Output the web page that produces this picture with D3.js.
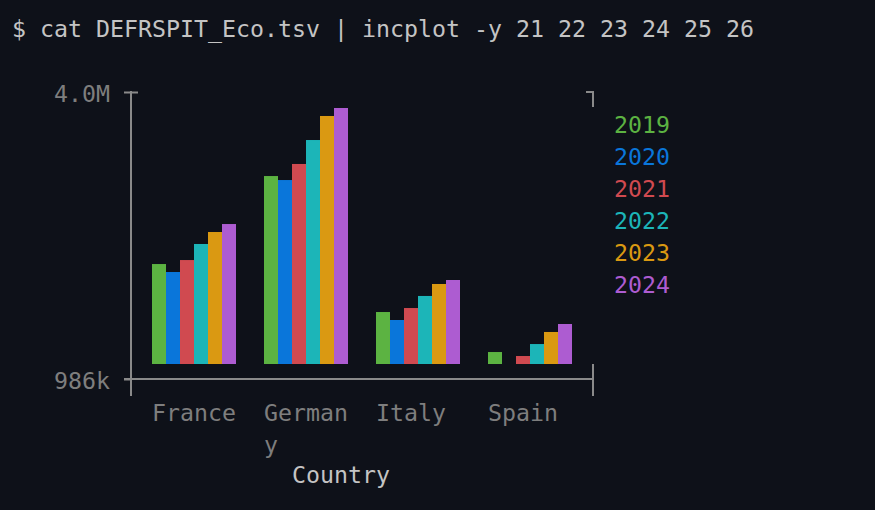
<!DOCTYPE html>
<html><head><meta charset="utf-8">
<script src="https://cdn.jsdelivr.net/npm/d3@7"></script>
<style>
html,body{margin:0;padding:0;background:#0e1119;}
svg{display:block;}
text{font-family:"DejaVu Sans Mono",monospace;font-size:23.25px;}
</style></head>
<body>
<script>
const title = "$ cat DEFRSPIT_Eco.tsv | incplot -y 21 22 23 24 25 26";
const countries = ["France", "Germany", "Italy", "Spain"];
const years = ["2019", "2020", "2021", "2022", "2023", "2024"];
const colors = ["#5cb342", "#0a76da", "#d04a50", "#1cb5b8", "#da9912", "#ad5cd1"];
const v2019 = [2163000, 3199000, 1598000, 1127000];
const v2020 = [2069000, 3152000, 1504000, 986000];
const v2021 = [2210000, 3341000, 1645000, 1080000];
const v2022 = [2399000, 3623000, 1787000, 1221000];
const v2023 = [2540000, 3906000, 1928000, 1363000];
const v2024 = [2634000, 4000000, 1975000, 1457000];
const series = [v2019, v2020, v2021, v2022, v2023, v2024];
const yTicks = [986000, 4000000];
const yTickLabels = ["986k", "4.0M"];
const xTitle = "Country";

const W = 875, H = 510, cw = 14, rh = 32, col0 = 12, base0 = 37;
const svg = d3.select("body").append("svg").attr("width", W).attr("height", H);
svg.append("rect").attr("width", W).attr("height", H).attr("fill", "#0e1119");

const axisColor = "#8a8a8a", labelColor = "#7e7e7e";

svg.append("text").attr("x", col0).attr("y", base0).attr("fill", "#c4c4c4").text(title);

const x = d3.scaleBand().domain(countries).range([152, 572]).paddingInner(0.25).paddingOuter(0);
const xi = d3.scaleBand().domain(years).range([0, x.bandwidth()]);
const y = d3.scaleLinear().domain([986000, 4000000]).range([364, 108]);
const yAx = d3.scaleLinear().domain([986000, 4000000]).range([379, 92]);

const axisX = 131, right = 593;

// bars
const g = svg.append("g");
countries.forEach((c, ci) => {
  years.forEach((yr, si) => {
    const v = series[si][ci];
    g.append("rect")
      .attr("x", x(c) + xi(yr))
      .attr("y", y(v))
      .attr("width", xi.bandwidth())
      .attr("height", y(986000) - y(v))
      .attr("fill", colors[si]);
  });
});

// y axis
const yAxis = d3.axisLeft(yAx).tickValues(yTicks).tickFormat((d, i) => yTickLabels[i]).tickSize(7).tickPadding(14);
const ga = svg.append("g").attr("transform", `translate(${axisX},0)`).call(yAxis);
ga.select(".domain").remove();
ga.selectAll(".tick line").attr("stroke", axisColor).attr("stroke-width", 2).attr("x2", -7);
ga.selectAll(".tick text").attr("fill", labelColor).attr("font-family", "DejaVu Sans Mono").attr("font-size", "23.25px").attr("dy", "0.41em");
ga.selectAll(".tick").filter(d => d === 4000000).append("line").attr("x1", 0).attr("x2", 7).attr("stroke", axisColor).attr("stroke-width", 2);

// axis lines
const L = (x1, y1, x2, y2) => svg.append("line").attr("x1", x1).attr("y1", y1).attr("x2", x2).attr("y2", y2).attr("stroke", axisColor).attr("stroke-width", 2);
L(axisX, yAx(4000000) - 1, axisX, 396);
L(axisX - 7, yAx(986000), right + 1, yAx(986000));
L(right, 364, right, 396);
L(right - 7, yAx(4000000), right + 1, yAx(4000000));
L(right, yAx(4000000) - 1, right, 107);

// x labels (wrapped to band width)
const maxChars = Math.round(x.bandwidth() / cw);
countries.forEach(c => {
  const parts = [];
  for (let i = 0; i < c.length; i += maxChars) parts.push(c.slice(i, i + maxChars));
  parts.forEach((p, k) => {
    svg.append("text").attr("x", x(c)).attr("y", base0 + rh * (12 + k)).attr("fill", labelColor).text(p);
  });
});
svg.append("text").attr("x", col0 + 20 * cw).attr("y", base0 + rh * 14 - 2).attr("fill", "#c4c4c4").text(xTitle);

// legend
years.forEach((yr, i) => {
  svg.append("text").attr("x", col0 + 43 * cw).attr("y", base0 + rh * (3 + i)).attr("fill", colors[i]).text(yr);
});
</script>
</body></html>
